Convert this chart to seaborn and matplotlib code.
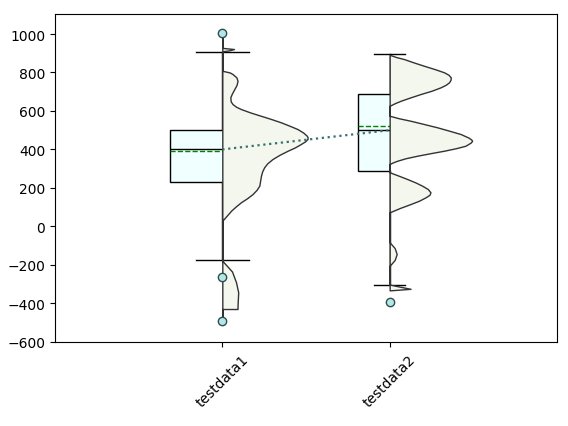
import numpy as np
import pandas as pd
import matplotlib
matplotlib.use("Agg")
import matplotlib.pyplot as plt
from matplotlib.patches import Rectangle
import seaborn as sns

# values
categories = ["testdata1", "testdata2"]
box_q1 = [229, 289]
box_median = [400, 500]
box_q3 = [501, 688]
box_mean = [393, 523]
whisker_lo = [-174, -305]
whisker_hi = [908, 895]
fliers = [[1005, -265, -491], [-395]]

# half violin profiles: value on y, half width
violin1_y = [1005, 928, 922, 915, 910,
             809, 800, 792, 775, 757, 735, 714, 690, 671, 650, 636, 622, 610, 592, 575, 558, 541,
             523, 506, 488, 471, 462, 454, 442, 428, 410, 393, 372, 350, 328, 307, 285, 263,
             237, 211, 190, 168, 146, 125, 103, 81, 55, 29,
             -179, -235, -291, -343, -413, -430, -430, -491]
violin1_w = [0, 0, 0.07, 0.04, 0,
             0, 0.045, 0.061, 0.084, 0.091, 0.085, 0.072, 0.057, 0.048, 0.050, 0.061, 0.082, 0.111, 0.168, 0.230, 0.292, 0.350,
             0.402, 0.449, 0.483, 0.505, 0.510, 0.509, 0.495, 0.469, 0.433, 0.390, 0.342, 0.300, 0.269, 0.250, 0.238, 0.231,
             0.226, 0.221, 0.205, 0.181, 0.148, 0.111, 0.080, 0.052, 0.026, 0,
             0, 0.058, 0.082, 0.095, 0.091, 0.091, 0, 0]
violin2_y = [892, 880, 870, 852, 835, 818, 801, 788, 775, 762, 749, 736, 723, 705, 688, 670, 653, 640, 627,
             575, 562, 549, 532, 515, 497, 480, 462, 452, 445, 436, 419, 406, 393, 380, 367, 354, 341, 332, 324,
             281, 264, 246, 228, 211, 194, 177, 164, 151, 133, 116, 95, 73,
             -83, -113, -144, -175, -205,
             -303, -325, -333]
violin2_w = [0, 0.040, 0.085, 0.145, 0.205, 0.268, 0.325, 0.352, 0.365, 0.364, 0.355, 0.335, 0.305, 0.250, 0.185, 0.122, 0.066, 0.030, 0,
             0, 0.055, 0.125, 0.205, 0.284, 0.357, 0.424, 0.470, 0.487, 0.493, 0.485, 0.453, 0.395, 0.324, 0.242, 0.164, 0.095, 0.045, 0.018, 0,
             0, 0.052, 0.105, 0.155, 0.195, 0.228, 0.244, 0.238, 0.215, 0.175, 0.125, 0.060, 0,
             0, 0.03, 0.042, 0.03, 0,
             0, 0.125, 0]

box_widths = [0.63, 0.375]
positions = [1, 2]


def draw_chart(out_file="out.png"):
    fig = plt.figure(figsize=(5.68, 4.27), dpi=100)
    ax = fig.add_axes([0.0968, 0.1974, 0.8838, 0.7674])

    stats = []
    for i in range(len(categories)):
        stats.append({"med": box_median[i], "q1": box_q1[i], "q3": box_q3[i],
                      "whislo": whisker_lo[i], "whishi": whisker_hi[i],
                      "mean": box_mean[i], "fliers": []})

    parts = ax.bxp(stats, positions=positions, widths=box_widths, patch_artist=True,
                   showmeans=True, meanline=True, showfliers=False,
                   boxprops=dict(facecolor="#f0ffff", edgecolor="black", linewidth=1),
                   medianprops=dict(color="black", linewidth=1),
                   meanprops=dict(color="green", linestyle="--", linewidth=1),
                   whiskerprops=dict(color="black", linewidth=1),
                   capprops=dict(color="black", linewidth=1))

    # keep only the left half of the boxes
    for i, pos in enumerate(positions):
        w = box_widths[i]
        clip = Rectangle((pos - w / 2 - 0.02, -5000), w / 2 + 0.022, 10000,
                         transform=ax.transData)
        for art in (parts["boxes"][i], parts["medians"][i], parts["means"][i]):
            art.set_clip_path(clip)

    # half violins on the right
    for pos, vy, vw in [(1, violin1_y, violin1_w), (2, violin2_y, violin2_w)]:
        vy = np.array(vy, dtype=float)
        vw = np.array(vw, dtype=float)
        ax.fill_betweenx(vy, pos, pos + vw, facecolor="#f3f7ee",
                         edgecolor="#333333", linewidth=1, joinstyle="round", zorder=3)

    # medians joined with a dotted line
    med_df = pd.DataFrame({"x": positions, "y": box_median})
    sns.lineplot(data=med_df, x="x", y="y", ax=ax, color="#3b7070",
                 linestyle=":", linewidth=1.6, zorder=4)

    # outliers
    fl = pd.DataFrame({"x": [positions[i] for i in range(len(fliers)) for _ in fliers[i]],
                       "y": [v for f in fliers for v in f]})
    sns.scatterplot(data=fl, x="x", y="y", ax=ax, marker="o", s=36,
                    facecolor="#b4e6e6", edgecolor="#2f4f4f", linewidth=1, zorder=5)

    ax.set_xlim(0, 3)
    ax.set_ylim(-600, 1104)
    ax.set_yticks(range(-600, 1001, 200))
    ax.set_xticks(positions)
    ax.set_xticklabels(categories, rotation=45)
    ax.set_xlabel("")
    ax.set_ylabel("")

    fig.savefig(out_file, dpi=100)


if __name__ == "__main__":
    draw_chart()
